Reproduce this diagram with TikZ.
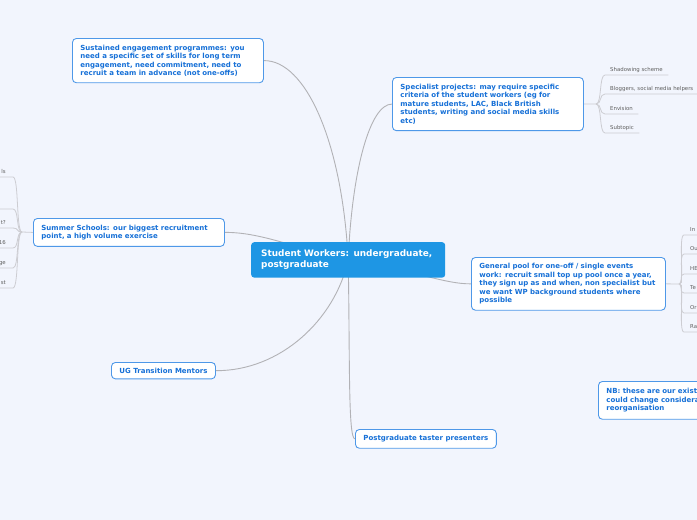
\documentclass[tikz,border=0pt]{standalone}
\usepackage{fontspec}
\setmainfont{DejaVu Sans}
\definecolor{bg}{RGB}{242,245,253}
\definecolor{cenblue}{RGB}{30,150,228}
\definecolor{bord}{RGB}{78,152,232}
\definecolor{txtblue}{RGB}{22,112,215}
\definecolor{connc}{RGB}{178,178,182}
\definecolor{subconnc}{RGB}{205,205,210}
\definecolor{subtxt}{RGB}{95,95,95}
\pgfdeclarelayer{background}
\pgfsetlayers{background,main}
\begin{document}
\begin{tikzpicture}[x=1pt,y=-1pt,
  central/.style={fill=cenblue, rounded corners=3pt, text=white,
    font=\fontsize{8.9}{10.7}\selectfont\bfseries, align=left, anchor=north west,
    inner xsep=10pt, inner ysep=8pt, text width=174pt},
  topic/.style={draw=bord, line width=0.9pt, fill=white, rounded corners=4pt, text=txtblue,
    font=\fontsize{7.0}{8.5}\selectfont\bfseries, align=left, anchor=north west,
    inner xsep=8pt, inner ysep=6.3pt},
  mainconn/.style={draw=connc, line width=0.9pt},
  subconn/.style={draw=subconnc, line width=0.8pt},
  sub/.style={font=\fontsize{5.4}{6}\selectfont, text=subtxt, inner xsep=5pt, inner ysep=2.5pt,
    text height=4pt, text depth=1.2pt, align=left},
  lsub/.style={sub, inner xsep=7pt, align=right, anchor=south east},
  rsub/.style={sub, anchor=south west}
]
\useasboundingbox (0,0) rectangle (697,520);
\begin{pgfonlayer}{background}
\fill[bg] (0,0) rectangle (697,520);
\end{pgfonlayer}

% central
\node[central] (cen) at (251,242) {\mbox{Student Workers: undergraduate,}\\\mbox{postgraduate}};

% main topics
\node[topic, text width=175pt] (sus) at (72,38) {\mbox{Sustained engagement programmes: you}\\\mbox{need a specific set of skills for long term}\\\mbox{engagement, need commitment, need to}\\\mbox{recruit a team in advance (not one-offs)}};
\node[topic, text width=175pt, inner ysep=6.5pt] (spe) at (392,77) {\mbox{Specialist projects: may require specific}\\\mbox{criteria of the student workers (eg for}\\\mbox{mature students, LAC, Black British}\\\mbox{students, writing and social media skills}\\\mbox{etc)}};
\node[topic, text width=178pt, inner ysep=6pt] (gen) at (471,257) {\mbox{General pool for one-off / single events}\\\mbox{work: recruit small top up pool once a year,}\\\mbox{they sign up as and when, non specialist but}\\\mbox{we want WP background students where}\\\mbox{possible}};
\node[topic, text width=175pt] (sum) at (33,218) {\mbox{Summer Schools: our biggest recruitment}\\\mbox{point, a high volume exercise}};
\node[topic, inner ysep=5.5pt] (ug) at (111,362) {UG Transition Mentors};
\node[topic, inner ysep=6pt] (pg) at (355,429) {Postgraduate taster presenters};
\node[topic, text width=200pt, inner ysep=7pt] (nb) at (598,381) {\mbox{NB: these are our exist}\\\mbox{could change considera}\\\mbox{reorganisation}};

% specialist subtopics
\coordinate (sj) at (596,104);
\node[rsub, text width=53pt] (s1) at (605,75) {\mbox{Shadowing scheme}};
\node[rsub, text width=90pt] (s2) at (605,94) {\mbox{Bloggers, social media helpers}};
\node[rsub, text width=23pt] (s3) at (605,114) {\mbox{Envision}};
\node[rsub, text width=24pt] (s4) at (605,133) {\mbox{Subtopic}};

% general pool subtopics
\coordinate (gj) at (679,284);
\node[rsub, inner xsep=6pt, text width=30pt] (g1) at (684,235) {\mbox{In}};
\node[rsub, inner xsep=6pt, text width=30pt] (g2) at (684,254) {\mbox{Ou}};
\node[rsub, inner xsep=6pt, text width=30pt] (g3) at (684,274) {\mbox{HE}};
\node[rsub, inner xsep=6pt, text width=30pt] (g4) at (684,293) {\mbox{Te}};
\node[rsub, inner xsep=6pt, text width=30pt] (g5) at (684,313) {\mbox{Or}};
\node[rsub, inner xsep=6pt, text width=30pt] (g6) at (684,332) {\mbox{Ra}};

% summer school subtopics
\coordinate (lj) at (22,232);
\node[lsub, text width=30pt] (l1) at (13,177) {\mbox{ls}};
\node[lsub, text width=30pt] (l2) at (13,209) {};
\node[lsub, text width=30pt] (l3) at (13,228) {\mbox{t?}};
\node[lsub, text width=30pt] (l4) at (13,248) {\mbox{16}};
\node[lsub, text width=30pt] (l5) at (13,268) {\mbox{ge}};
\node[lsub, text width=30pt] (l6) at (13,288) {\mbox{st}};

\begin{pgfonlayer}{background}
\draw[mainconn] (cen.center) .. controls (342,140) and (305,60) .. (sus.east);
\draw[mainconn] (cen.center) .. controls (352,170) and (370,104) .. (spe.west);
\draw[mainconn] (cen.center) .. controls (300,250) and (262,232) .. (sum.east);
\draw[mainconn] (cen.center) .. controls (335,320) and (280,371) .. (ug.east);
\draw[mainconn] (cen.center) .. controls (350,360) and (348,439) .. (pg.west);
\draw[mainconn] (cen.center) .. controls (420,272) and (445,284) .. (gen.west);

\draw[subconn] (spe.east) -- (sj);
\foreach \n in {s1,s2,s3,s4}{
  \draw[subconn] (sj) .. controls (602,104) and (599,0 |- \n.south west) .. (\n.south west) -- (\n.south east);
}
\draw[subconn] (gen.east) -- (gj);
\foreach \n in {g1,g2,g3,g4,g5,g6}{
  \draw[subconn] (gj) .. controls (685,284) and (678,0 |- \n.south west) .. (\n.south west) -- (\n.south east);
}
\draw[subconn] (sum.west) -- (lj);
\foreach \n in {l1,l2,l3,l4,l5,l6}{
  \draw[subconn] (lj) .. controls (16,232) and (19,0 |- \n.south east) .. (\n.south east) -- (\n.south west);
}
\end{pgfonlayer}
\end{tikzpicture}
\end{document}
